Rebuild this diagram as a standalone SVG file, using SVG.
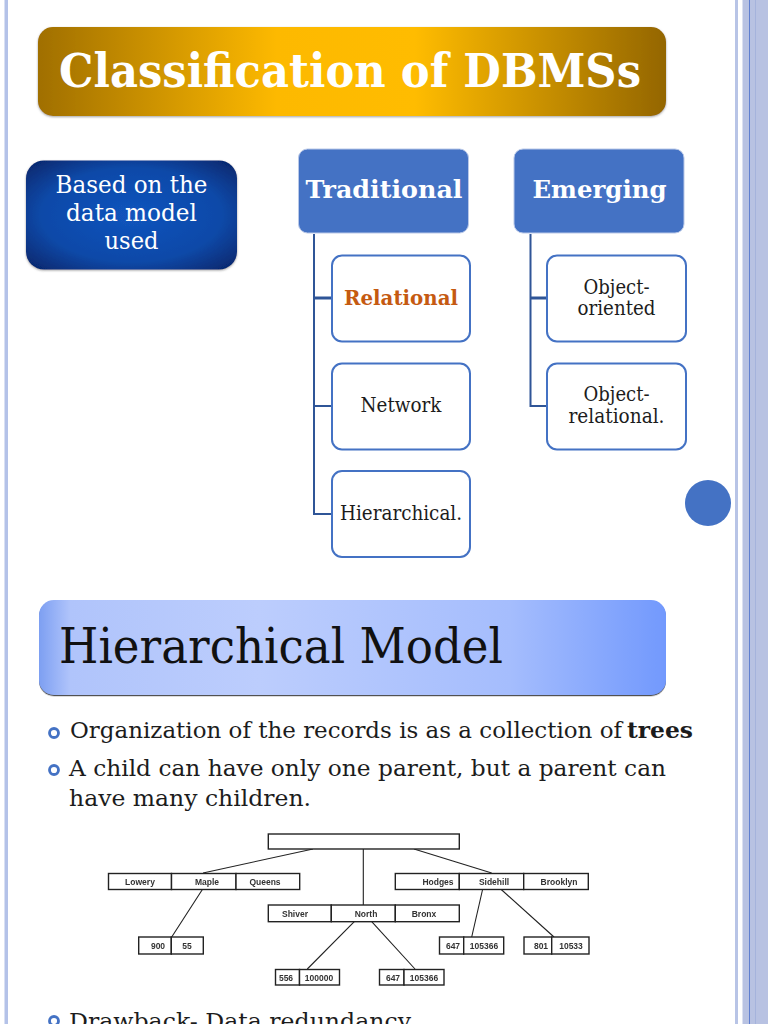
<svg xmlns="http://www.w3.org/2000/svg" width="768" height="1024" viewBox="0 0 768 1024">
<style>
text{font-family:"DejaVu Serif","Liberation Serif",serif}
.c{text-anchor:middle}
.b{font-weight:bold}
.w{fill:#fff}
.k{fill:#1c1c1c}
.leaf{fill:#fff;stroke:#4472c4;stroke-width:2}
.head{fill:#4472c4;stroke:#b9c8e8;stroke-width:1}
.conn{fill:none;stroke:#2f5597;stroke-width:2}
.thick{fill:none;stroke:#2f5597;stroke-width:3}
.cell{fill:#fff;stroke:#222;stroke-width:1.4}
.tree{fill:none;stroke:#222;stroke-width:1.1}
.t{font-family:"Liberation Sans",sans-serif;font-size:8.5px;font-weight:bold;fill:#333;text-anchor:middle}
.bul{fill:#fff;stroke:#4472c4;stroke-width:2.8}
</style>
<defs>
<linearGradient id="gold" x1="0" x2="1" y1="0" y2="0"><stop offset="0" stop-color="#a06f00"/><stop offset=".38" stop-color="#fdb900"/><stop offset=".6" stop-color="#ffbc00"/><stop offset="1" stop-color="#946600"/></linearGradient>
<radialGradient id="blue" cx=".5" cy=".5" r=".66"><stop offset="0" stop-color="#1254bd"/><stop offset=".65" stop-color="#0e49a8"/><stop offset="1" stop-color="#062a72"/></radialGradient>
<linearGradient id="peri" x1="0" x2="1" y1="0" y2="0"><stop offset="0" stop-color="#7d9ff2"/><stop offset=".05" stop-color="#b0c4fb"/><stop offset=".35" stop-color="#bccdfd"/><stop offset=".75" stop-color="#a5bdfd"/><stop offset="1" stop-color="#7299fd"/></linearGradient>
<filter id="sh" x="-5%" y="-10%" width="110%" height="125%"><feDropShadow dx="0" dy="1" stdDeviation=".8" flood-color="#555" flood-opacity=".55"/></filter>
<filter id="sh2" x="-5%" y="-10%" width="110%" height="125%"><feDropShadow dx="0" dy="1.2" stdDeviation=".7" flood-color="#333" flood-opacity=".85"/></filter>
<filter id="soft" x="-5%" y="-5%" width="110%" height="110%"><feGaussianBlur stdDeviation=".5"/></filter>
</defs>
<rect width="768" height="1024" fill="#fff"/>
<g id="frame">
<rect x="4.500" y="0" width="3.500" height="1024" fill="#b4c2e8"/>
<rect x="735" y="0" width="3" height="1024" fill="#b8c4e6"/>
<rect x="742.500" y="0" width="25.500" height="1024" fill="#b8c2e2"/>
<rect x="749" y="0" width="1" height="1024" fill="#5f7fd0"/>
<rect x="755" y="0" width="1" height="1024" fill="#a5b3dc"/>
</g>
<g id="title1">
<rect x="38" y="27" width="628" height="89" rx="15" fill="url(#gold)" filter="url(#sh)"/>
<text class="b w" x="59" y="87" font-size="46" textLength="582" lengthAdjust="spacingAndGlyphs">Classification of DBMSs</text>
</g>
<g id="basis">
<rect x="26" y="160.500" width="211" height="109" rx="18" fill="url(#blue)" filter="url(#sh)"/>
<text class="w c" font-size="23.500" x="131.500" y="193" textLength="152" lengthAdjust="spacingAndGlyphs">Based on the</text>
<text class="w c" font-size="23.500" x="131.500" y="221" textLength="131" lengthAdjust="spacingAndGlyphs">data model</text>
<text class="w c" font-size="23.500" x="131.500" y="249" textLength="54" lengthAdjust="spacingAndGlyphs">used</text>
</g>
<g id="connectors">
<path class="conn" d="M314 234V514H332M314 406H332"/>
<path class="thick" d="M314 298H332"/>
<path class="conn" d="M530.500 234V406H547"/>
<path class="thick" d="M530.500 298H547"/>
</g>
<g id="traditional"><rect class="head" x="298.500" y="149" width="170" height="84" rx="9"/>
<text class="b w c" font-size="24.500" x="384" y="198" textLength="157" lengthAdjust="spacingAndGlyphs">Traditional</text></g>
<g id="emerging"><rect class="head" x="514" y="149" width="170" height="84" rx="9"/>
<text class="b w c" font-size="24.500" x="599.500" y="198" textLength="134" lengthAdjust="spacingAndGlyphs">Emerging</text></g>
<g id="relational"><rect class="leaf" x="332" y="255.500" width="138" height="86" rx="10"/>
<text class="b c" fill="#c55a11" font-size="20.500" x="401" y="304.500" textLength="114" lengthAdjust="spacingAndGlyphs">Relational</text></g>
<g id="network"><rect class="leaf" x="332" y="363.500" width="138" height="86" rx="10"/>
<text class="c k" font-size="19.500" x="401" y="412" textLength="81" lengthAdjust="spacingAndGlyphs">Network</text></g>
<g id="hierarchical"><rect class="leaf" x="332" y="471" width="138" height="86" rx="10"/>
<text class="c k" font-size="19.500" x="401" y="520" textLength="122" lengthAdjust="spacingAndGlyphs">Hierarchical.</text></g>
<g id="object-oriented"><rect class="leaf" x="547" y="255.500" width="139" height="86" rx="10"/>
<text class="c k" font-size="19.500" x="616.500" y="294" textLength="66" lengthAdjust="spacingAndGlyphs">Object-</text>
<text class="c k" font-size="19.500" x="616.500" y="315" textLength="78" lengthAdjust="spacingAndGlyphs">oriented</text></g>
<g id="object-relational"><rect class="leaf" x="547" y="363.500" width="139" height="86" rx="10"/>
<text class="c k" font-size="19.500" x="616.500" y="401" textLength="66" lengthAdjust="spacingAndGlyphs">Object-</text>
<text class="c k" font-size="19.500" x="616.500" y="423" textLength="96" lengthAdjust="spacingAndGlyphs">relational.</text></g>
<circle id="dot" cx="708" cy="503" r="23" fill="#4472c4"/>
<g id="title2">
<rect x="39" y="600" width="627" height="95" rx="15" fill="url(#peri)" filter="url(#sh2)"/>
<text fill="#111" x="59" y="663" font-size="49" textLength="444" lengthAdjust="spacingAndGlyphs">Hierarchical Model</text>
</g>
<g id="bullets">
<circle class="bul" cx="54" cy="733" r="4.500"/>
<circle class="bul" cx="54" cy="770" r="4.500"/>
<text class="k" font-size="23" x="70" y="738" textLength="552" lengthAdjust="spacingAndGlyphs">Organization of the records is as a collection of</text>
<text class="k b" font-size="23" x="627" y="738" textLength="66" lengthAdjust="spacingAndGlyphs">trees</text>
<text class="k" font-size="23" x="69" y="776" textLength="597" lengthAdjust="spacingAndGlyphs">A child can have only one parent, but a parent can</text>
<text class="k" font-size="23" x="69" y="806" textLength="242" lengthAdjust="spacingAndGlyphs">have many children.</text>
<circle class="bul" cx="54" cy="1021" r="4.500"/>
<text class="k" font-size="23" x="69" y="1029" textLength="342" lengthAdjust="spacingAndGlyphs">Drawback- Data redundancy</text>
</g>
<g id="tree-connectors" filter="url(#soft)">
<path class="tree" d="M313 849L203 873M363.300 849V905M414 849L491.700 873M202.700 889L171.700 937M354.300 921.700L307.300 969M371.700 921.700L415 969M482.700 889L471.700 937M500.700 889L554 937"/>
</g>
<g id="tree-nodes" filter="url(#soft)">
<g id="root"><rect class="cell" x="268.300" y="834" width="191" height="15"/></g>
<g id="r1">
<rect class="cell" x="108.500" y="873.500" width="63" height="16"/><rect class="cell" x="171.500" y="873.500" width="64.500" height="16"/><rect class="cell" x="236" y="873.500" width="63.700" height="16"/>
<text class="t" x="140" y="885">Lowery</text><text class="t" x="207" y="885">Maple</text><text class="t" x="265" y="885">Queens</text></g>
<g id="r2">
<rect class="cell" x="268.300" y="905" width="63" height="16.700"/><rect class="cell" x="331.300" y="905" width="64" height="16.700"/><rect class="cell" x="395.300" y="905" width="64" height="16.700"/>
<text class="t" x="295" y="917">Shiver</text><text class="t" x="366" y="917">North</text><text class="t" x="424" y="917">Bronx</text></g>
<g id="r3">
<rect class="cell" x="395.300" y="873.500" width="64" height="16"/><rect class="cell" x="459.300" y="873.500" width="64.400" height="16"/><rect class="cell" x="523.700" y="873.500" width="64.600" height="16"/>
<text class="t" x="438" y="885">Hodges</text><text class="t" x="494" y="885">Sidehill</text><text class="t" x="559" y="885">Brooklyn</text></g>
<g id="a1"><rect class="cell" x="138.700" y="937" width="32.600" height="17"/><rect class="cell" x="171.300" y="937" width="32" height="17"/>
<text class="t" x="158" y="949">900</text><text class="t" x="187" y="949">55</text></g>
<g id="a2"><rect class="cell" x="275.500" y="969.500" width="24" height="15.500"/><rect class="cell" x="299.500" y="969.500" width="40" height="15.500"/>
<text class="t" x="286" y="981">556</text><text class="t" x="319" y="981">100000</text></g>
<g id="a3"><rect class="cell" x="379.500" y="969.500" width="24.500" height="15.500"/><rect class="cell" x="404" y="969.500" width="40" height="15.500"/>
<text class="t" x="393" y="981">647</text><text class="t" x="424" y="981">105366</text></g>
<g id="a4"><rect class="cell" x="439.500" y="937" width="24.200" height="17"/><rect class="cell" x="463.700" y="937" width="40" height="17"/>
<text class="t" x="453" y="949">647</text><text class="t" x="484" y="949">105366</text></g>
<g id="a5"><rect class="cell" x="524" y="937" width="27.700" height="17"/><rect class="cell" x="551.700" y="937" width="37.300" height="17"/>
<text class="t" x="541" y="949">801</text><text class="t" x="571" y="949">10533</text></g>
</g>
</svg>
